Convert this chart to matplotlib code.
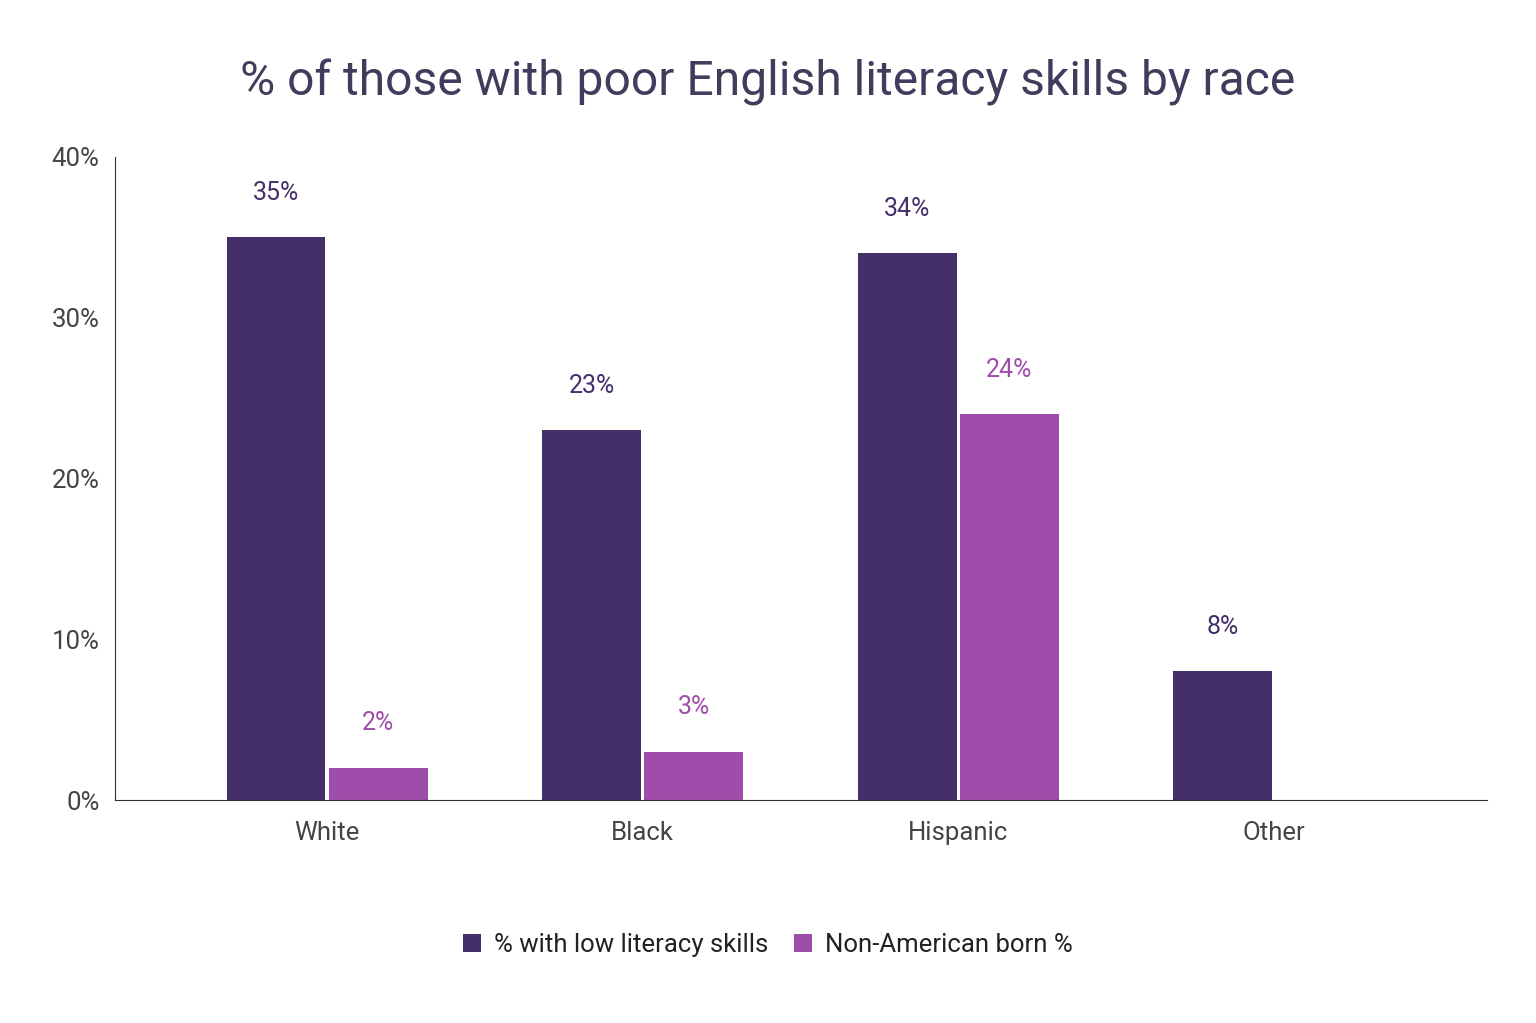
import numpy as np
import matplotlib
matplotlib.use('Agg')
import matplotlib.pyplot as plt

categories = ['White', 'Black', 'Hispanic', 'Other']
low_literacy = [35, 23, 34, 8]
non_american = [2, 3, 24, None]
y_ticks = [0, 10, 20, 30, 40]

dark = '#452f6a'
light = '#9f4daa'
text_col = '#3f3d5c'

plt.rcParams['font.family'] = ['Roboto', 'DejaVu Sans']

fig = plt.figure(figsize = (15.36, 10.23), dpi = 100)
ax = fig.add_axes([115 / 1536, 1 - 800 / 1023, 1372 / 1536, 643 / 1023])

x = np.arange(len(categories))
w = 0.313
off = 0.162

b1 = ax.bar(x - off, low_literacy, width = w, color = dark, label = '% with low literacy skills')
nx = [xi + off for xi, v in zip(x, non_american) if v is not None]
nv = [v for v in non_american if v is not None]
b2 = ax.bar(nx, nv, width = w, color = light, label = 'Non-American born %')

for xi, v in zip(x - off, low_literacy):
    ax.annotate('{}%'.format(v), (xi, v), xytext = (0, 32), textcoords = 'offset points',
                ha = 'center', va = 'center', fontsize = 18, color = dark)
for xi, v in zip(nx, nv):
    ax.annotate('{}%'.format(v), (xi, v), xytext = (0, 32), textcoords = 'offset points',
                ha = 'center', va = 'center', fontsize = 18, color = light)

ax.set_xlim(-0.672, 3.675)
ax.set_ylim(0, 40)
ax.set_xticks(x)
ax.set_xticklabels(categories, fontsize = 18.5, color = '#444444')
ax.set_yticks(y_ticks)
ax.set_yticklabels(['{}%'.format(t) for t in y_ticks], fontsize = 18.5, color = '#444444')
ax.tick_params(length = 0)
ax.tick_params(axis = 'y', pad = 11)
ax.tick_params(axis = 'x', pad = 15)

ax.spines['top'].set_visible(False)
ax.spines['right'].set_visible(False)
ax.spines['left'].set_color('#333333')
ax.spines['bottom'].set_color('#333333')

fig.text(0.5, 1 - 82 / 1023, '% of those with poor English literacy skills by race',
         ha = 'center', va = 'center', fontsize = 34.6, color = text_col)

fig.legend(handles = [b1, b2], loc = 'center', bbox_to_anchor = (0.5, 1 - 945 / 1023),
           ncol = 2, frameon = False, fontsize = 18.5, handlelength = 0.7, handleheight = 0.7,
           handletextpad = 0.5, columnspacing = 1.0, labelcolor = '#222222')

plt.savefig('out.png', dpi = 100)
